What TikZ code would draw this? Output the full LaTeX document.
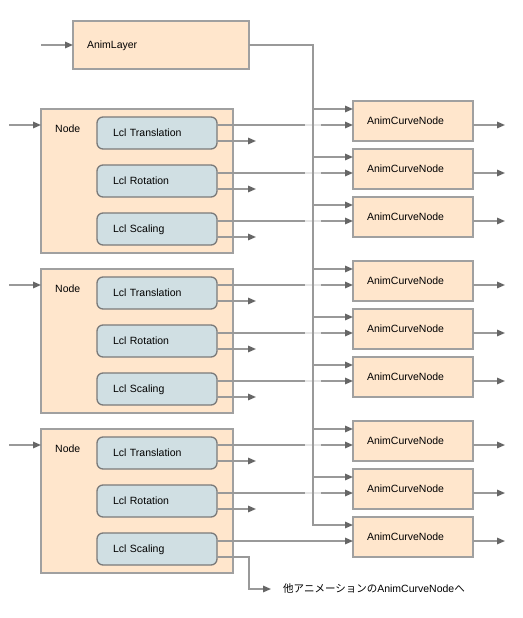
\documentclass[tikz,border=0pt]{standalone}
\usepackage{fontspec}
\setmainfont{Liberation Sans}
\newfontfamily\cjk{Noto Sans CJK JP}
\usetikzlibrary{arrows.meta,calc}
\definecolor{orfill}{HTML}{FFE6CC}
\definecolor{blfill}{HTML}{D0DFE3}
\definecolor{oredge}{HTML}{A0A0A0}
\definecolor{bledge}{HTML}{7A7A7A}
\definecolor{linec}{HTML}{999999}
\definecolor{tipc}{HTML}{666666}
\definecolor{gapc}{HTML}{E6E6E6}
\begin{document}
\begin{tikzpicture}[x=1pt,y=-1pt,
  font=\fontsize{10.5}{12}\selectfont,
  basebox/.style={line width=1.3pt, inner ysep=0pt, outer sep=0pt, anchor=north west, align=left, text height=7.5pt, text depth=0pt},
  obox/.style={basebox, draw=oredge, fill=orfill},
  cbox/.style={obox, minimum width=120pt, minimum height=40pt, inner xsep=14pt, text width=92pt},
  lbox/.style={basebox, draw=bledge, fill=blfill, rounded corners=6pt, minimum width=120pt, minimum height=32pt, inner xsep=16pt, text width=88pt},
  txt/.style={anchor=west, inner sep=0pt, text height=7.5pt, text depth=0pt},
  conn/.style={draw=linec, line width=1.5pt},
  arr/.style={conn, -{Triangle[length=8pt,width=6.5pt,color=tipc]}},
  gap/.style={draw=gapc, line width=1.6pt}]
\useasboundingbox (0,0) rectangle (522,618);

% AnimLayer
\node[obox, minimum width=176pt, minimum height=48pt, inner xsep=14pt, text width=148pt] (al) at (73,21) {AnimLayer};
\coordinate (alin) at (41,45);
\draw[arr] (alin) -- (al.west);

\foreach \g/\o in {1/0,2/160,3/320}{
  \node[obox, minimum width=192pt, minimum height=144pt] (n\g) at (41,109+\o) {};
  \node[txt] (nl\g) at ($(n\g.north west)+(14,20)$) {Node};
  \node[lbox] (t\g) at (97,117+\o) {Lcl Translation};
  \node[lbox] (r\g) at (97,165+\o) {Lcl Rotation};
  \node[lbox] (s\g) at (97,213+\o) {Lcl Scaling};
  \node[cbox] (c\g a) at (353,101+\o) {AnimCurveNode};
  \node[cbox] (c\g b) at (353,149+\o) {AnimCurveNode};
  \node[cbox] (c\g c) at (353,197+\o) {AnimCurveNode};
  \coordinate (in\g) at (9,125+\o);
  \draw[arr] (in\g) -- (in\g -| n\g.west);
}

% coordinates for ports
\foreach \g in {1,2,3}{
  \foreach \X/\Y in {t/a,r/b,s/c}{
    \coordinate (\X\g u) at ($(\X\g.north east)+(0,8)$);
    \coordinate (\X\g l) at ($(\X\g.north east)+(0,24)$);
    \coordinate (cbi\g\Y) at ($(c\g\Y.north west)+(0,8)$);
    \coordinate (co\g\Y) at ($(c\g\Y.north east)+(0,24)$);
    \draw[arr] (\X\g u) -- (\X\g u -| c\g\Y.west);
    \draw[arr] (co\g\Y) -- ++(32,0);
  }
}
\foreach \g/\X in {1/t,1/r,1/s,2/t,2/r,2/s,3/t,3/r}{
  \draw[arr] (\X\g l) -- ++(39,0);
}

% bus
\coordinate (bus) at (313,45);
\foreach \g/\X in {1/t,1/r,1/s,2/t,2/r,2/s,3/t,3/r}{
  \draw[gap] (bus |- \X\g u) ++(-8,0) -- ++(16,0);
}
\draw[arr] (al.east) -- (bus) |- (cbi3c);
\foreach \g/\Y in {1/a,1/b,1/c,2/a,2/b,2/c,3/a,3/b}{
  \draw[arr] (bus |- cbi\g\Y) -- (cbi\g\Y);
}

% other
\node[anchor=west, inner sep=0pt] (oth) at (283,589) {{\cjk 他アニメーションの}AnimCurveNode{\cjk へ}};
\coordinate (bend) at ($(s3l)+(32,0)$);
\draw[arr] (s3l) -- (bend) |- ([xshift=-12pt]oth.west);
\end{tikzpicture}
\end{document}
